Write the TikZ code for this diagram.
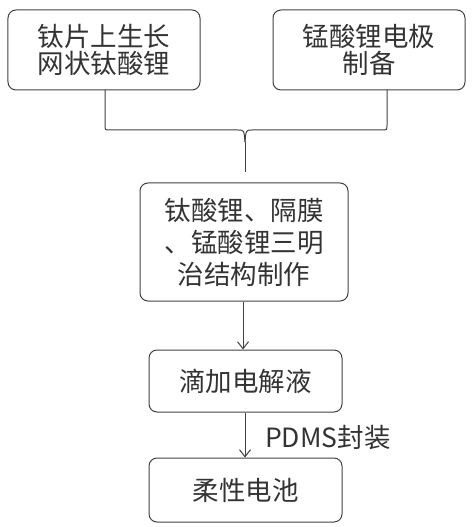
\documentclass[tikz,border=0pt]{standalone}
\usepackage{fontspec}
\newfontfamily\cjk{Noto Sans CJK SC}
\usetikzlibrary{arrows.meta}
\begin{document}
\begin{tikzpicture}[x=1bp,y=-1bp,
  box/.style={draw=black!75, line width=1bp, rounded corners=8bp, align=center,
    inner sep=0pt, text=black!80, font=\cjk\fontsize{26.5bp}{27bp}\selectfont},
  conn/.style={draw=black!75, line width=1bp},
  arr/.style={conn, -{Straight Barb[length=7bp,width=11bp]}},
  lbl/.style={text=black!80, font=\cjk\fontsize{26.5bp}{27bp}\selectfont, inner sep=0pt}]
\useasboundingbox (0,0) rectangle (474,527);
\node[box, minimum width=192bp, minimum height=80bp] (b1) at (104,50) {钛片上生长\\网状钛酸锂};
\node[box, minimum width=192bp, minimum height=80bp] (b2) at (369,50) {锰酸锂电极\\制备};
\node[box, minimum width=208bp, minimum height=118bp, font=\cjk\fontsize{26.5bp}{32bp}\selectfont] (b3) at (244,242) {钛酸锂、隔膜\\、锰酸锂三明\\治结构制作};
\node[box, minimum width=193bp, minimum height=62bp] (b4) at (245.5,381) {滴加电解液};
\node[box, minimum width=193bp, minimum height=64bp] (b5) at (245.5,490) {柔性电池};
\coordinate (bl) at (105,90);
\coordinate (br) at (387,90);
\coordinate (bc) at (245,142);
\coordinate (bend) at (245,172);
\draw[conn] (bl) -- (105,125) .. controls (105,130) .. (110,130) -- (238,130) .. controls (244,130) .. (bc);
\draw[conn] (br) -- (387,125) .. controls (387,130) .. (382,130) -- (252,130) .. controls (246,130) .. (bc);
\draw[conn] (bc) -- (bend);
\draw[arr] (b3.south -| 243,0) -- (b4.north -| 243,0);
\draw[arr] (b4.south -| 245,0) -- (b5.north -| 245,0);
\node[lbl, anchor=west] (l1) at (265,437) {PDMS封装};
\end{tikzpicture}
\end{document}
